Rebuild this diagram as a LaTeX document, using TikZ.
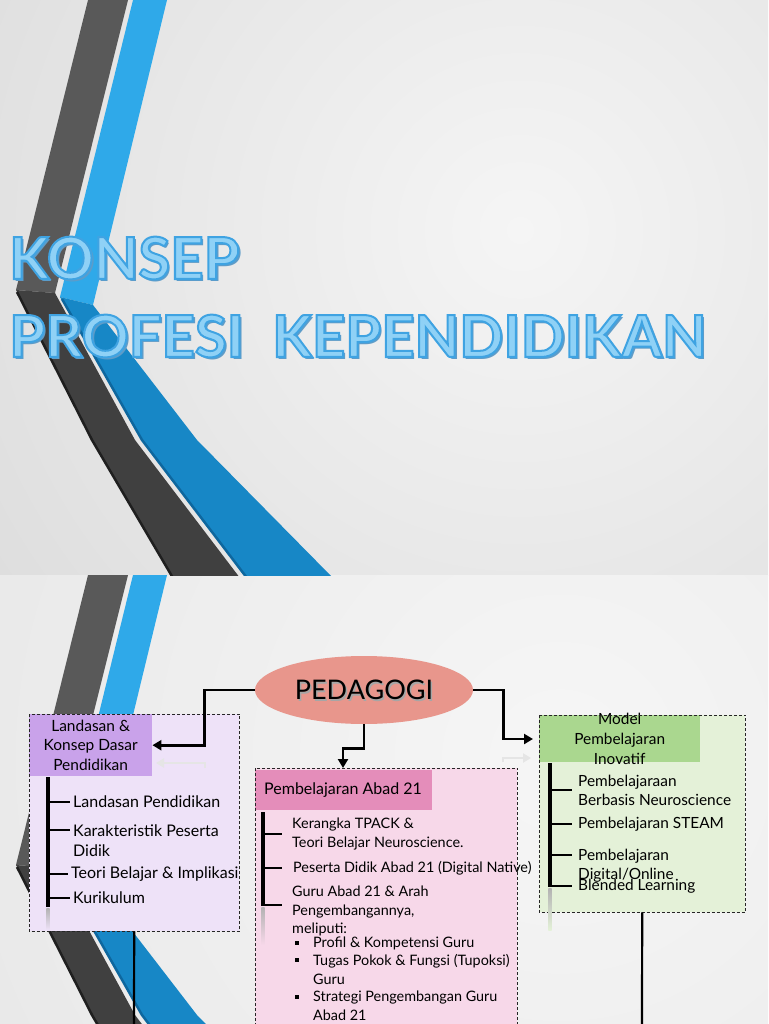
\documentclass[tikz,border=0pt]{standalone}
\usepackage{fontspec}
\setmainfont{Lato}
\usetikzlibrary{shapes.geometric,arrows.meta,positioning,calc}

\definecolor{bgtopin}{HTML}{F5F5F5}
\definecolor{bgtopout}{HTML}{D4D4D4}
\definecolor{bgbotin}{HTML}{F6F6F6}
\definecolor{bgbotout}{HTML}{E3E3E3}
\definecolor{ribdarkA}{HTML}{595959}
\definecolor{ribdarkB}{HTML}{404040}
\definecolor{ribshadow}{HTML}{1F1F1F}
\definecolor{ribblueA}{HTML}{2FA9E9}
\definecolor{ribblueB}{HTML}{1787C6}
\definecolor{blueshadow}{HTML}{0E679E}
\definecolor{titlefill}{HTML}{8FD1F6}
\definecolor{titleshade}{HTML}{5E9CC8}
\definecolor{pedfill}{HTML}{E8968C}
\definecolor{lavbox}{HTML}{EEE2F8}
\definecolor{lavhead}{HTML}{C9A2EA}
\definecolor{pinkbox}{HTML}{F7D8E9}
\definecolor{pinkhead}{HTML}{E48DBA}
\definecolor{greenbox}{HTML}{E4F1D8}
\definecolor{greenhead}{HTML}{AAD78F}

% fill and stroke the glyphs (blue rim)
\newcommand{\rimtext}[1]{\special{pdf:literal direct 2 Tr 2 w 0.247 0.639 0.886 RG}#1\special{pdf:literal direct 0 Tr}}

\begin{document}
\begin{tikzpicture}[x=1pt, y=-1pt,
  boxfill/.style={rectangle, anchor=north west, inner sep=0pt},
  framebox/.style={draw=black!85, line width=1pt, dash pattern=on 3pt off 2pt},
  headtext/.style={align=center, inner sep=0pt, font=\fontsize{15.5}{19.5}\selectfont},
  item/.style={anchor=west, align=left, inner sep=0pt, font=\fontsize{16}{20}\selectfont},
  pitem/.style={item, font=\fontsize{14.4}{18.5}\selectfont},
  gitem/.style={item, font=\fontsize{15.4}{19}\selectfont},
  trunk/.style={line width=3.4pt},
  branch/.style={line width=2.8pt, shorten >=3pt},
  link/.style={line width=2.8pt, -{Triangle[length=9pt,width=10pt]}},
  ghost/.style={line width=2.4pt, black!10, -{Triangle[length=8pt,width=9pt]}},
  downline/.style={line width=2.2pt},
  bullet/.style={rectangle, fill=black, minimum size=4pt, inner sep=0pt},
  title/.style={anchor=base west, inner sep=0pt, font=\fontsize{58}{58}\selectfont\bfseries}]

\useasboundingbox (0,0) rectangle (768,1024);

% slide backgrounds
\begin{scope}
  \clip (0,0) rectangle (768,575);
  \shade[inner color=bgtopin, outer color=bgtopout] (520,230) circle (900);
\end{scope}
\begin{scope}
  \clip (0,575) rectangle (768,1024);
  \shade[inner color=bgbotin, outer color=bgbotout] (560,760) circle (900);
\end{scope}

% ribbons, same on both slides
\foreach \off/\bot in {0/575,575/1024}{
  \begin{scope}
    \clip (0,\off) rectangle (768,\bot);
    \begin{scope}[shift={(0,\off)}]
      \fill[ribdarkA] (88,0) -- (128,0) -- (55,293) -- (16,290) -- cycle;
      \fill[ribdarkB] (16,290) -- (55,293) -- (135,440) -- (240,578) -- (173,578) -- (92,440) -- cycle;
      \draw[ribshadow, line width=2.5pt] (17,292) -- (92,440) -- (173,578);
      \fill[ribblueA] (133,0) -- (167,0) -- (93,305) -- (60,297) -- cycle;
      \fill[ribblueB] (60,297) -- (93,305) -- (197,440) -- (333,578) -- (247,578) -- (142,440) -- cycle;
      \draw[blueshadow, line width=2.5pt] (62,299) -- (142,440) -- (247,578);
    \end{scope}
  \end{scope}
}

% title slide
\node[title, text=titleshade] (konsepshade) at (11.5,281.5) {KONSEP};
\node[title, text=titlefill] (konsep) at (9,279) {\rimtext{KONSEP}};
\node[title, text=titleshade] (profesishade) at (11.5,359.5) {PROFESI\ \ KEPENDIDIKAN};
\node[title, text=titlefill] (profesi) at (9,357) {\rimtext{PROFESI\ \ KEPENDIDIKAN}};

% centre
\node[ellipse, fill=pedfill, minimum width=218, minimum height=68, inner sep=0pt] (ped) at (364,690) {};
\node[font=\fontsize{27}{27}\selectfont, text=black!35] (pedshade) at (365.5,692) {PEDAGOGI};
\node[font=\fontsize{27}{27}\selectfont] (pedtext) at (ped.center) {PEDAGOGI};

% left box
\node[boxfill, fill=lavbox, minimum width=210, minimum height=217] (lbox) at (29,714) {};
\node[boxfill, fill=lavhead, minimum width=123, minimum height=62] (lhead) at (lbox.north west) {};
\node[headtext] (ltitle) at (lhead.center) {Landasan \&\\Konsep Dasar\\Pendidikan};
\draw[framebox] (lbox.north west) rectangle (lbox.south east);

\coordinate (ltop) at (48,777);
\coordinate (lbot) at (48,907);
\coordinate (lb2) at (48,830);
\draw[trunk] (ltop) -- (lbot);
\shade[top color=black!30, bottom color=lavbox] (46.3,908) rectangle (49.7,930);
\node[item] (l1) at (73,802) {Landasan Pendidikan};
\node[item] (l2) at (73,841) {Karakteristik Peserta\\Didik};
\node[item] (l3) at (71,874) {Teori Belajar \& Implikasi};
\node[item] (l4) at (73,898) {Kurikulum};
\draw[branch] (ltop |- l1.west) -- (l1.west);
\draw[branch] (lb2) -- (lb2 -| l2.west);
\draw[branch] (ltop |- l3.west) -- (l3.west);
\draw[branch] (ltop |- l4.west) -- (l4.west);

% middle box
\node[boxfill, fill=pinkbox, minimum width=262, minimum height=262] (pbox) at (255,768) {};
\node[boxfill, fill=pinkhead, minimum width=177, minimum height=40] (phead) at (255,770) {};
\node[item] (ptitle) at (264,790) {Pembelajaran Abad 21};
\draw[framebox] (pbox.north west) rectangle (pbox.south east);

\coordinate (ptop) at (263,812);
\coordinate (pbot) at (263,906);
\coordinate (pb3) at (263,905);
\draw[trunk] (ptop) -- (pbot);
\shade[top color=black!30, bottom color=pinkbox] (261.3,907) rectangle (264.7,945);
\node[pitem] (p1) at (292,834) {Kerangka TPACK \&\\Teori Belajar Neuroscience.};
\node[pitem] (p2) at (293,868) {Peserta Didik Abad 21 (Digital Native)};
\node[pitem] (p3) at (292,911) {Guru Abad 21 \& Arah\\Pengembangannya,\\meliputi:};
\node[pitem] (p4) at (313,943) {Profil \& Kompetensi Guru};
\node[pitem] (p5) at (313,969.5) {Tugas Pokok \& Fungsi (Tupoksi)\\Guru};
\node[pitem] (p6) at (313,1005.5) {Strategi Pengembangan Guru\\Abad 21};
\foreach \by [count=\i] in {943,960,997}
  \node[bullet] (bul\i) at (297,\by) {};
\draw[branch] (ptop |- p1.west) -- ([xshift=-7pt]p1.west);
\draw[branch] (ptop |- p2.west) -- ([xshift=-8pt]p2.west);
\draw[branch] (pb3) -- ([xshift=-7pt]pb3 -| p3.west);

% right box
\node[boxfill, fill=greenbox, minimum width=206, minimum height=197] (gbox) at (539,715) {};
\node[boxfill, fill=greenhead, minimum width=161, minimum height=47] (ghead) at (gbox.north west) {};
\node[headtext, font=\fontsize{15.4}{20}\selectfont] (gtitle) at (ghead.center) {Model\\Pembelajaran\\Inovatif};
\draw[framebox] (gbox.north west) rectangle (gbox.south east);

\coordinate (gtop) at (550,763);
\coordinate (gbot) at (550,887);
\coordinate (gb3) at (550,855);
\draw[trunk] (gtop) -- (gbot);
\shade[top color=black!30, bottom color=greenbox] (548.3,888) rectangle (551.7,930);
\node[gitem] (g1) at (578,790) {Pembelajaraan\\Berbasis Neuroscience};
\node[gitem] (g2) at (578,824) {Pembelajaran STEAM};
\node[gitem] (g3) at (578,865.5) {Pembelajaran\\Digital/Online};
\node[gitem] (g4) at (578,886) {Blended Learning};
\draw[branch] (gtop |- g1.west) -- ([xshift=-3pt]g1.west);
\draw[branch] (gtop |- g2.west) -- ([xshift=-3pt]g2.west);
\draw[branch] (gb3) -- ([xshift=-3pt]gb3 -| g3.west);
\draw[branch] (gtop |- g4.west) -- ([xshift=-3pt]g4.west);

% links from the centre
\coordinate (lgA) at (205,768);
\coordinate (lgB) at (156,763);
\coordinate (rgA) at (503,762);
\coordinate (rgB) at (531,758);
\draw[ghost] (lgA) |- (lgB);
\draw[ghost] (rgA) |- (rgB);
\draw[link] (ped.west) -- ++(-50,0) |- (lhead.east);
\draw[link] (ped.south) -- ++(0,24) -| ([xshift=88pt]pbox.north west);
\draw[link, shorten >=6pt] (ped.east) -- ++(30,0) |- ([yshift=-24pt]gbox.north west);

% lines running off the slide
\coordinate (lend) at (134,1024);
\coordinate (gend) at (642,1024);
\draw[downline] (lbox.south) -- (lend);
\draw[downline] (gbox.south) -- (gend);

\end{tikzpicture}
\end{document}
